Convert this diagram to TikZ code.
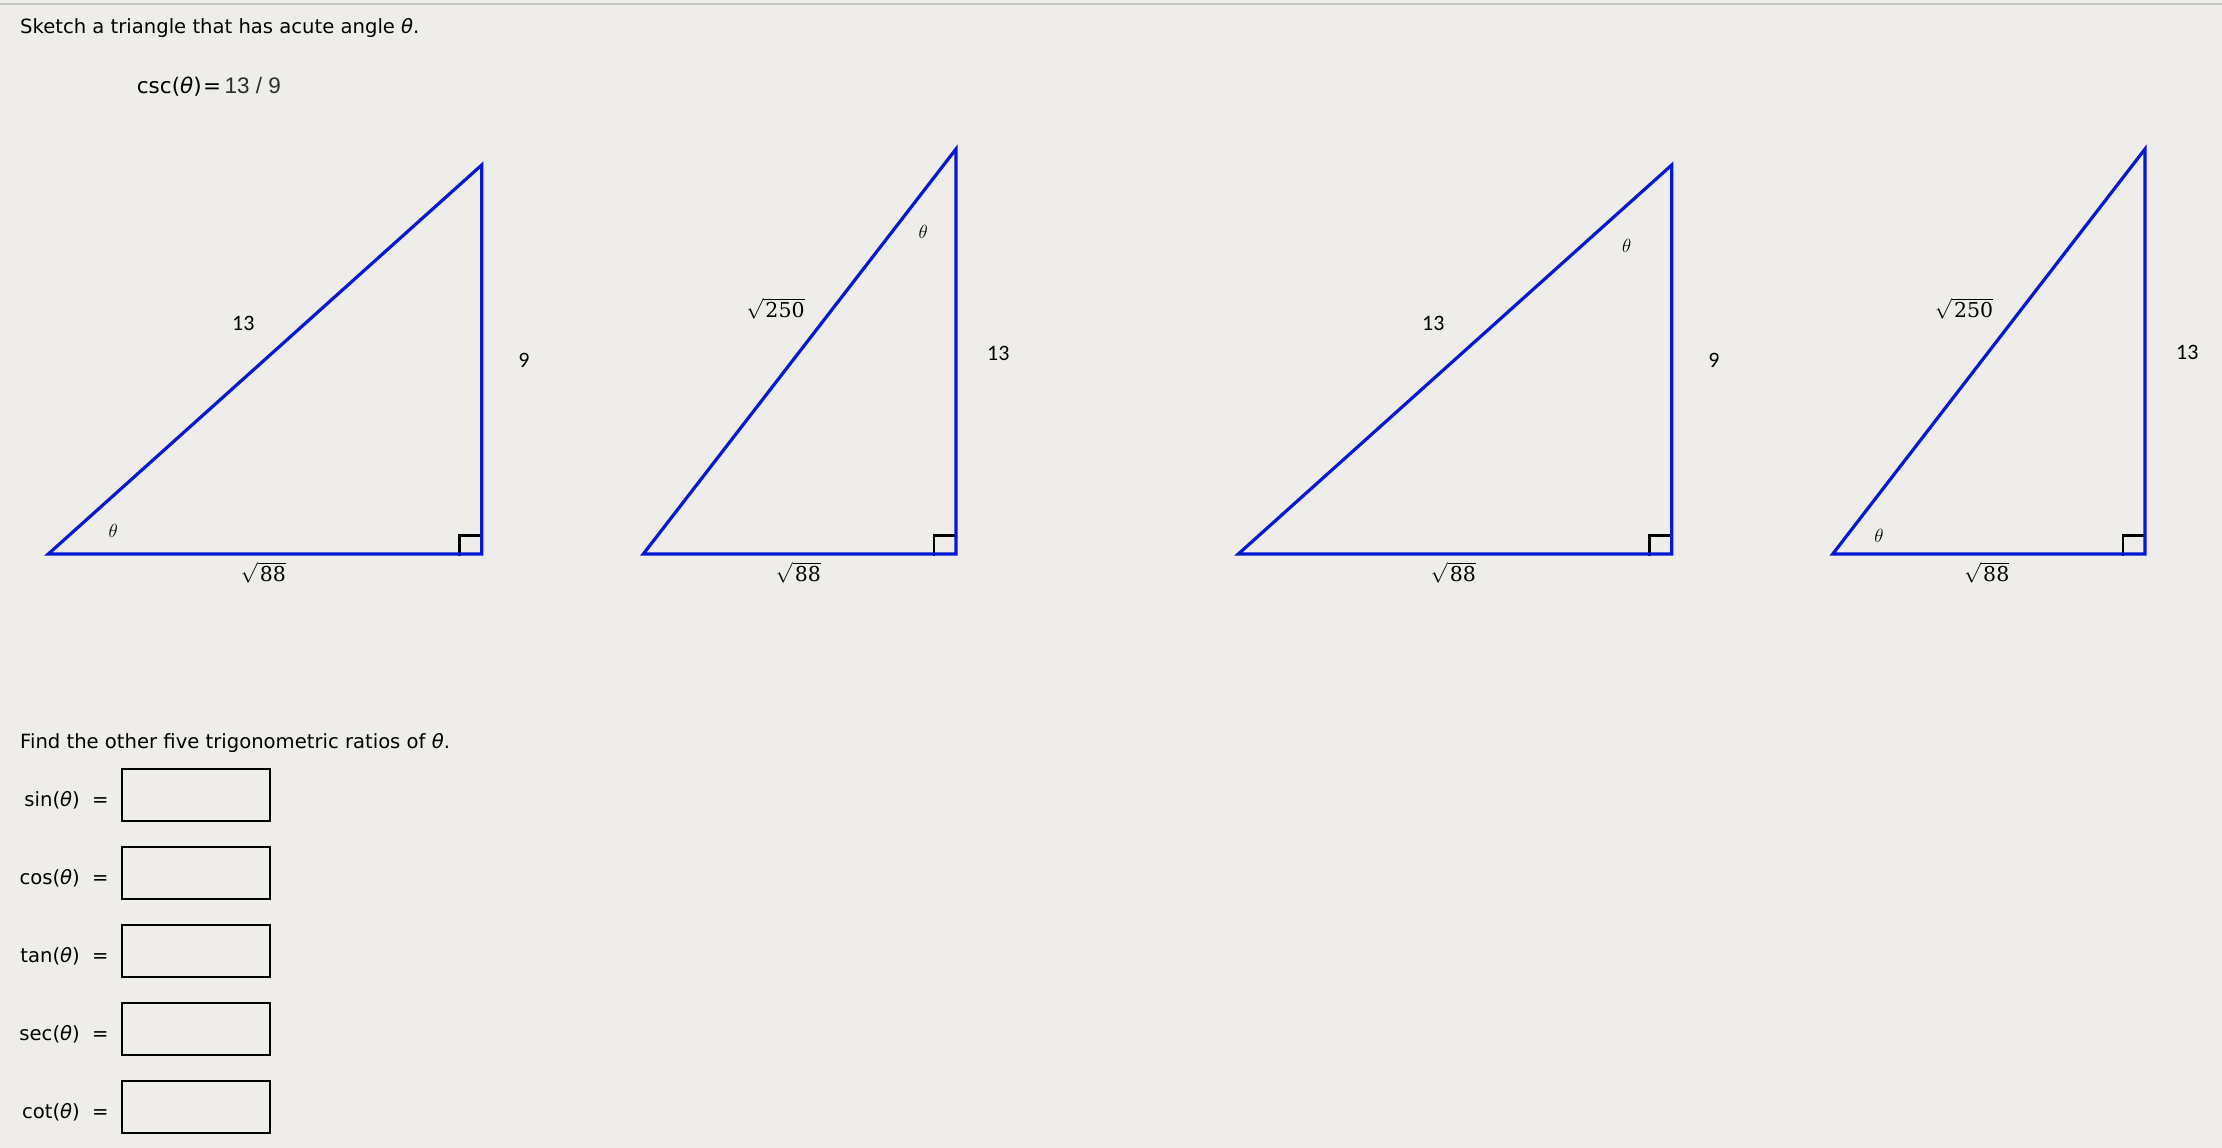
\RequirePackage{fix-cm}
\documentclass[tikz,border=0pt]{standalone}
\usepackage{fontspec}
\setmainfont{DejaVu Sans}
\newfontfamily\labfont{Carlito}
\newfontfamily\arialfont{Liberation Sans}
\newfontfamily\radfont{DejaVu Serif}
\usetikzlibrary{calc}
\definecolor{bg}{RGB}{238,237,233}
\definecolor{tblue}{RGB}{5,25,210}
\definecolor{rulegrey}{RGB}{196,196,196}
\definecolor{dgrey}{RGB}{45,45,45}
\newcommand{\rootof}[1]{$\sqrt{\kern2pt\hbox{\radfont #1}}$}
\begin{document}
\begin{tikzpicture}[x=1pt,y=-1pt,
  tri/.style={draw=tblue,line width=3.2pt},
  rang/.style={draw=black,line width=2.6pt},
  side/.style={inner sep=0,font=\labfont\fontsize{22}{26}\selectfont},
  ang/.style={inner sep=0,font=\fontsize{19}{22}\selectfont},
  rad/.style={inner sep=0,font=\fontsize{20.5}{24}\selectfont},
  txt/.style={inner sep=0,font=\fontsize{19.6}{24}\selectfont,anchor=base west},
  lbl/.style={inner sep=0,font=\fontsize{19.6}{24}\selectfont,anchor=base east},
  eq/.style={inner sep=0,font=\fontsize{19.6}{24}\selectfont,anchor=base},
  ansbox/.style={draw=black,line width=2pt,minimum width=148pt,minimum height=52pt,inner sep=0},
]
\fill[bg] (0,0) rectangle (2222,1148);
\useasboundingbox (0,0) rectangle (2222,1148);
\draw[rulegrey,line width=2pt] (0,4) -- (2222,4);

% header
\node[txt] (head) at (20,33.3) {Sketch a triangle that has acute angle \textit{θ}.};
\node[inner sep=0,anchor=base west,font=\fontsize{21.5}{26}\selectfont] (csc) at (136.7,93.3) {csc(\textit{θ})\kern1.5pt=};
\node[inner sep=0,anchor=base west,text=dgrey,font=\arialfont\fontsize{22.5}{26}\selectfont] (cscv) at (224.5,93.3) {13 / 9};

% triangle 1
\coordinate (t1a) at (48.3,554);
\coordinate (t1b) at (481.7,554);
\coordinate (t1c) at (481.7,165);
\draw[rang] ($(t1b)+(-22.2,1.5)$) -- ++(0,-20) -- ++(22.2,0);
\draw[tri] (t1a) -- (t1b) -- (t1c) -- cycle;
\node[side] (t1hyp) at (243.3,323.3) {13};
\node[side] (t1opp) at (524,360) {9};
\node[ang] (t1th) at (113.3,530.7) {$\theta$};
\node[rad] (t1adj) at (263.3,573) {\rootof{88}};

% triangle 2
\coordinate (t2a) at (643.3,554);
\coordinate (t2b) at (956,554);
\coordinate (t2c) at (956,149);
\draw[rang] ($(t2b)+(-22.2,1.5)$) -- ++(0,-20) -- ++(22.2,0);
\draw[tri] (t2a) -- (t2b) -- (t2c) -- cycle;
\node[rad] (t2hyp) at (775.5,309) {\rootof{250}};
\node[side] (t2opp) at (998.3,353.3) {13};
\node[ang] (t2th) at (923.3,231.7) {$\theta$};
\node[rad] (t2adj) at (798.3,573) {\rootof{88}};

% triangle 3
\coordinate (t3a) at (1238.3,554);
\coordinate (t3b) at (1671.7,554);
\coordinate (t3c) at (1671.7,165);
\draw[rang] ($(t3b)+(-22.2,1.5)$) -- ++(0,-20) -- ++(22.2,0);
\draw[tri] (t3a) -- (t3b) -- (t3c) -- cycle;
\node[side] (t3hyp) at (1433.3,323.3) {13};
\node[side] (t3opp) at (1714,360) {9};
\node[ang] (t3th) at (1626.7,246) {$\theta$};
\node[rad] (t3adj) at (1453.3,573) {\rootof{88}};

% triangle 4
\coordinate (t4a) at (1832.7,554);
\coordinate (t4b) at (2145,554);
\coordinate (t4c) at (2145,149);
\draw[rang] ($(t4b)+(-22.2,1.5)$) -- ++(0,-20) -- ++(22.2,0);
\draw[tri] (t4a) -- (t4b) -- (t4c) -- cycle;
\node[rad] (t4hyp) at (1964,309) {\rootof{250}};
\node[side] (t4opp) at (2187.3,352.7) {13};
\node[ang] (t4th) at (1879,536) {$\theta$};
\node[rad] (t4adj) at (1986.7,573) {\rootof{88}};

% answers
\node[txt] (find) at (20,748.3) {Find the other five trigonometric ratios of \textit{θ}.};

\node[ansbox] (b1) at (195.85,794.85) {};
\node[ansbox] (b2) at (195.85,872.7) {};
\node[ansbox] (b3) at (195.85,950.85) {};
\node[ansbox] (b4) at (195.85,1029) {};
\node[ansbox] (b5) at (195.85,1106.7) {};

\node[lbl] (l1) at (80,806.7) {sin(\textit{θ})};
\node[lbl] (l2) at (80,884.5) {cos(\textit{θ})};
\node[lbl] (l3) at (80,962.7) {tan(\textit{θ})};
\node[lbl] (l4) at (80,1040.8) {sec(\textit{θ})};
\node[lbl] (l5) at (80,1118.5) {cot(\textit{θ})};

\node[eq] (e1) at (100.3,806.7) {=};
\node[eq] (e2) at (100.3,884.5) {=};
\node[eq] (e3) at (100.3,962.7) {=};
\node[eq] (e4) at (100.3,1040.8) {=};
\node[eq] (e5) at (100.3,1118.5) {=};
\end{tikzpicture}
\end{document}
